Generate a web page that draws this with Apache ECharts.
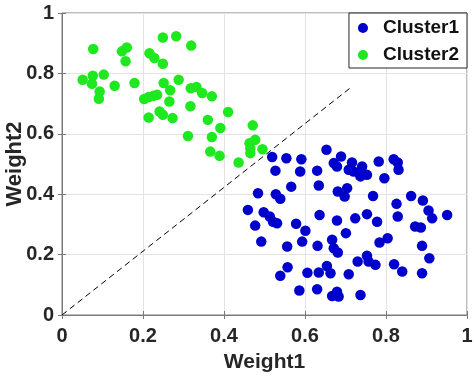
<!DOCTYPE html>
<html>
<head>
<meta charset="utf-8">
<script src="https://cdn.jsdelivr.net/npm/echarts@6/dist/echarts.min.js"></script>
<style>
  html, body { margin: 0; padding: 0; background: #fff; }
  #chart { width: 474px; height: 376px; }
</style>
</head>
<body>
<div id="chart"></div>
<script>
// values
const cluster1 = [
  [0.519, 0.523], [0.554, 0.519], [0.591, 0.516], [0.653, 0.547], [0.689, 0.525],
  [0.671, 0.503], [0.679, 0.492], [0.716, 0.505], [0.741, 0.492], [0.782, 0.508],
  [0.819, 0.516], [0.829, 0.505], [0.831, 0.481], [0.527, 0.478], [0.588, 0.475],
  [0.630, 0.478], [0.708, 0.481], [0.720, 0.475], [0.733, 0.470], [0.753, 0.464],
  [0.737, 0.459], [0.796, 0.453], [0.566, 0.425], [0.634, 0.429], [0.681, 0.409],
  [0.704, 0.420], [0.698, 0.392], [0.484, 0.403], [0.528, 0.400], [0.539, 0.385],
  [0.768, 0.394], [0.862, 0.394], [0.891, 0.379], [0.826, 0.368], [0.459, 0.348],
  [0.498, 0.340], [0.513, 0.326], [0.521, 0.309], [0.531, 0.304], [0.477, 0.296],
  [0.636, 0.331], [0.578, 0.302], [0.679, 0.313], [0.724, 0.320], [0.753, 0.334],
  [0.778, 0.309], [0.829, 0.326], [0.905, 0.346], [0.914, 0.320], [0.951, 0.331],
  [0.872, 0.293], [0.886, 0.290], [0.601, 0.279], [0.701, 0.271], [0.492, 0.243],
  [0.593, 0.243], [0.667, 0.249], [0.671, 0.221], [0.681, 0.207], [0.631, 0.229],
  [0.556, 0.227], [0.784, 0.240], [0.804, 0.254], [0.889, 0.229], [0.753, 0.196],
  [0.757, 0.177], [0.774, 0.166], [0.730, 0.177], [0.907, 0.188], [0.820, 0.168],
  [0.557, 0.158], [0.654, 0.162], [0.663, 0.138], [0.634, 0.141], [0.606, 0.140],
  [0.539, 0.130], [0.708, 0.135], [0.840, 0.144], [0.889, 0.138], [0.586, 0.081],
  [0.630, 0.085], [0.667, 0.063], [0.679, 0.077], [0.683, 0.061], [0.737, 0.066]
];

const cluster2 = [
  [0.077, 0.881], [0.051, 0.779], [0.076, 0.792], [0.074, 0.766], [0.103, 0.796],
  [0.093, 0.740], [0.091, 0.716], [0.130, 0.759], [0.148, 0.873], [0.160, 0.886],
  [0.157, 0.840], [0.179, 0.768], [0.216, 0.867], [0.228, 0.851], [0.249, 0.919],
  [0.282, 0.923], [0.319, 0.892], [0.249, 0.832], [0.251, 0.768], [0.288, 0.779],
  [0.267, 0.744], [0.265, 0.707], [0.203, 0.715], [0.214, 0.722], [0.226, 0.726],
  [0.235, 0.729], [0.214, 0.654], [0.241, 0.674], [0.249, 0.663], [0.273, 0.652],
  [0.318, 0.751], [0.332, 0.755], [0.346, 0.735], [0.370, 0.724], [0.317, 0.691],
  [0.360, 0.646], [0.410, 0.672], [0.391, 0.619], [0.370, 0.589], [0.311, 0.593],
  [0.366, 0.541], [0.389, 0.527], [0.436, 0.505], [0.471, 0.628], [0.463, 0.569],
  [0.477, 0.580], [0.465, 0.552], [0.465, 0.536], [0.495, 0.549]
];

const boundary = [[0, 0], [0.71, 0.75]];
const ticks = [0, 0.2, 0.4, 0.6, 0.8, 1];

const chart = echarts.init(document.getElementById('chart'));
const font = 'Liberation Sans';
const textColor = '#262626';

const fmt = v => (ticks.indexOf(v) >= 0 ? String(v) : '');

const option = {
  animation: false,
  textStyle: { fontFamily: font },
  grid: {
    left: 62, right: 7, top: 13, bottom: 61,
    outerBoundsMode: 'none', containLabel: false,
    show: true, borderColor: '#7a7a7a', borderWidth: 1
  },
  legend: {
    orient: 'vertical',
    right: 7, top: 13,
    data: ['Cluster1', 'Cluster2'],
    icon: 'circle',
    itemWidth: 30, itemHeight: 10, itemGap: 5,
    padding: [4, 8, 2, 9],
    borderColor: '#262626', borderWidth: 1,
    backgroundColor: '#fff',
    textStyle: { fontFamily: font, fontSize: 19, fontWeight: 'bold', color: '#111', lineHeight: 22 }
  },
  xAxis: [{
    type: 'value', min: 0, max: 1, interval: 0.2,
    name: 'Weight1', nameLocation: 'middle', nameGap: 37, nameMoveOverlap: false,
    nameTextStyle: { fontFamily: font, fontSize: 21, fontWeight: 'bold', color: textColor },
    axisLine: { lineStyle: { color: '#7a7a7a' } },
    axisTick: { inside: true, length: 4, lineStyle: { color: '#7a7a7a' } },
    axisLabel: { formatter: fmt, margin: 11, fontFamily: font, fontSize: 20, fontWeight: 'bold', color: textColor },
    splitLine: { lineStyle: { color: '#e3e3e3' } }
  }, {
    type: 'value', min: 0, max: 1, interval: 0.2, position: 'top',
    axisLine: { show: false },
    axisTick: { inside: true, length: 4, lineStyle: { color: '#7a7a7a' } },
    axisLabel: { show: false }, splitLine: { show: false }
  }],
  yAxis: [{
    type: 'value', min: 0, max: 1, interval: 0.2,
    name: 'Weight2', nameLocation: 'middle', nameGap: 36, nameMoveOverlap: false,
    nameTextStyle: { fontFamily: font, fontSize: 22, fontWeight: 'bold', color: textColor },
    axisLine: { show: true, lineStyle: { color: '#7a7a7a' } },
    axisTick: { show: true, inside: true, length: 4, lineStyle: { color: '#7a7a7a' } },
    axisLabel: { formatter: fmt, margin: 8, fontFamily: font, fontSize: 20, fontWeight: 'bold', color: textColor },
    splitLine: { lineStyle: { color: '#e3e3e3' } }
  }, {
    type: 'value', min: 0, max: 1, interval: 0.2, position: 'right',
    axisLine: { show: false },
    axisTick: { show: true, inside: true, length: 4, lineStyle: { color: '#7a7a7a' } },
    axisLabel: { show: false }, splitLine: { show: false }
  }],
  series: [
    {
      name: 'boundary', type: 'line', data: boundary,
      showSymbol: false, symbol: 'none', silent: true,
      lineStyle: { color: '#000', width: 1, type: [6, 4] }
    },
    {
      name: 'Cluster1', type: 'scatter', data: cluster1,
      symbolSize: 10.5,
      itemStyle: { color: '#0000cc', opacity: 1 }
    },
    {
      name: 'Cluster2', type: 'scatter', data: cluster2,
      symbolSize: 10.5,
      itemStyle: { color: '#1ee81e', opacity: 1 }
    }
  ]
};

chart.setOption(option);
</script>
</body>
</html>
